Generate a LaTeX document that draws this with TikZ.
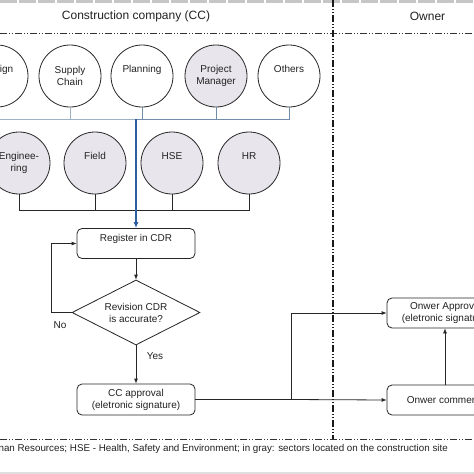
\documentclass[tikz,border=0pt]{standalone}
\usepackage{fontspec}
\setmainfont{Liberation Sans}
\usetikzlibrary{arrows.meta,shapes.geometric,calc}
\definecolor{txt}{HTML}{222222}
\definecolor{grayfill}{HTML}{E8E5EC}
\definecolor{busblue}{HTML}{6F8CAB}
\definecolor{buslight}{HTML}{9DB2C6}
\definecolor{arrowblue}{HTML}{2F5E9E}
\begin{document}
\begin{tikzpicture}[x=1pt,y=-1pt,
  circ/.style={circle,draw=black!85,line width=0.8pt,minimum size=62pt,inner sep=0pt,
    font=\fontsize{10}{11.5}\selectfont,text=txt,align=center},
  gcirc/.style={circ,fill=grayfill},
  topline/.style={text height=7pt,text depth=14pt},
  box/.style={draw=black!85,line width=0.8pt,rounded corners=5pt,minimum width=118pt,
    minimum height=30pt,inner sep=0pt,font=\fontsize{10}{12}\selectfont,text=txt,align=center},
  dec/.style={diamond,draw=black!85,line width=0.8pt,minimum width=128pt,minimum height=65pt,
    inner sep=0pt,aspect=2,font=\fontsize{10}{12}\selectfont,text=txt,align=center},
  conn/.style={draw=black!85,line width=0.8pt},
  arr/.style={conn,-{Latex[length=5pt,width=4pt]}},
  sep/.style={draw=black!80,line width=0.8pt,dash pattern=on 7pt off 2pt on 1pt off 2pt on 1pt off 2pt},
  vsep/.style={draw=black!90,line width=1.1pt,dash pattern=on 7pt off 2pt on 1pt off 2pt on 1pt off 2pt},
  lbl/.style={font=\fontsize{10}{12}\selectfont,text=txt,inner sep=0pt},
  title/.style={font=\fontsize{12}{14}\selectfont,text=txt,inner sep=0pt}
]
\useasboundingbox (0,0) rectangle (474,474);
\clip (0,0) rectangle (474,474);
\fill[white] (0,0) rectangle (474,474);
% frame strips
\draw[gray!45,line width=3pt,dash pattern=on 17pt off 2pt] (0,1) -- (474,1);
\fill[gray!25] (0,472) rectangle (474,474);
% swimlanes
\node[title] (cctitle) at (136,16) {Construction company (CC)};
\node[title] (owtitle) at (427.5,16) {Owner};
\draw[sep] (0,33) -- (474,33);
\draw[sep] (0,439) -- (474,439);
\draw[vsep] (333,0) -- (333,439);
% top row
\node[circ] (des) at (-3,76) {};
\node[lbl,anchor=east] (destxt) at (13.5,70) {ign};
\node[circ] (sc) at (70,76) {Supply\\Chain};
\node[circ,topline] (pl) at (142,76) {Planning};
\node[gcirc] (pm) at (216,76) {Project\\Manager};
\node[circ,topline] (ot) at (289,76) {Others};
% bottom row
\node[gcirc] (eng) at (19,163) {Enginee-\\ring};
\node[gcirc,topline] (fld) at (95,163) {Field};
\node[gcirc,topline] (hse) at (172,163) {HSE};
\node[gcirc,topline] (hr) at (249,163) {HR};
% buses
\coordinate (b1) at (136,119);
\coordinate (b2) at (136,210);
\draw[buslight,line width=0.8pt] (des.south) |- (b1);
\draw[buslight,line width=0.8pt] (sc.south) -- (sc.south |- b1);
\draw[busblue,line width=0.8pt] (b1) -| (pl.south);
\draw[busblue,line width=0.8pt] (b1) -| (pm.south);
\draw[busblue,line width=0.8pt] (b1) -| (ot.south);
\draw[conn] (eng.south) |- (b2);
\draw[conn] (fld.south) -- (fld.south |- b2);
\draw[conn] (hse.south) -- (hse.south |- b2);
\draw[conn] (b2) -| (hr.south);
% flow
\node[box,text height=7pt,text depth=11pt] (reg) at (136,243.5) {Register in CDR};
\node[dec] (dia) at (136,312.5) {Revision CDR\\is accurate?};
\node[box,minimum height=31pt] (cc) at (136,399.5) {CC approval\\(eletronic signature)};
\node[box] (oa) at (446,313) {Onwer Approval\\(eletronic signature)};
\node[box] (oc) at (446,400) {Onwer comments};
\draw[arrowblue,line width=1.3pt,-{Latex[length=6pt,width=5pt]}] (b1) -- (reg.north);
\draw[arr] (reg.south) -- (dia.north);
\draw[arr] (dia.south) -- (cc.north);
\draw[arr] (dia.west) -- ++(-20,0) |- (reg.west);
\node[lbl] (no) at (60,325) {No};
\node[lbl] (yes) at (155,356) {Yes};
\coordinate (split) at (291,399.5);
\draw[conn] (cc.east) -- (split);
\draw[arr] (split) |- (oa.west);
\draw[arr] (split) -- (oc.west);
\draw[draw=black!85,line width=0.6pt,-{Latex[length=5pt,width=4pt]}] (oc.north -| 445,0) -- (oa.south -| 445,0);
% caption
\node[font=\fontsize{9.8}{11}\selectfont,text=txt,inner sep=0pt,anchor=east] (cap) at (448,449) {nan Resources; HSE - Health, Safety and Environment; in gray: sectors located on the construction site};
\end{tikzpicture}
\end{document}
